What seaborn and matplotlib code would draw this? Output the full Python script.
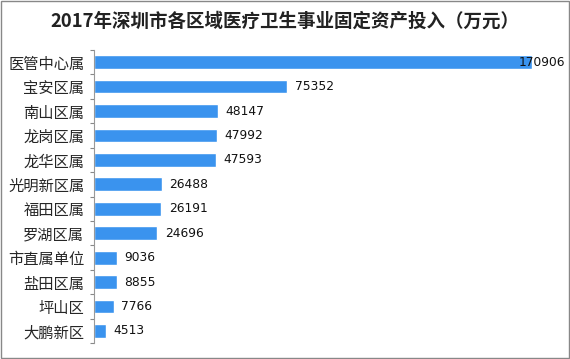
import pandas as pd
import seaborn as sns
import matplotlib.pyplot as plt
from matplotlib.patches import Rectangle

districts = ["医管中心属", "宝安区属", "南山区属", "龙岗区属", "龙华区属", "光明新区属",
             "福田区属", "罗湖区属", "市直属单位", "盐田区属", "坪山区", "大鹏新区"]
invest = [170906, 75352, 48147, 47992, 47593, 26488, 26191, 24696, 9036, 8855, 7766, 4513]

data = pd.DataFrame({"district": districts, "invest": invest})

sns.set_style("white")
plt.rcParams["font.family"] = ["Noto Sans CJK SC", "DejaVu Sans"]

fig = plt.figure(figsize=(5.7, 3.59), dpi=100)
ax = fig.add_axes([0.165, 0.044, 0.825, 0.817])

sns.barplot(x="invest", y="district", data=data, orient="h", color="#3A93EE",
            width=0.56, saturation=1, ax=ax)

xmax = 170906 * (564 - 94) / 438
ax.set_xlim(0, xmax)
ax.set_ylim(11.5, -0.5)

# value labels, the largest one is pushed back inside the frame
for i, v in enumerate(invest):
    if v + 0.17 * xmax > xmax:
        ax.text(xmax * 1.002, i, f"{v}", va="center", ha="right", fontsize=8.8,
                color="#111111", family="DejaVu Sans")
    else:
        ax.text(v + 0.016 * xmax, i, f"{v}", va="center", ha="left", fontsize=8.8,
                color="#111111", family="DejaVu Sans")

ax.set_xlabel("")
ax.set_ylabel("")
ax.set_xticks([])
ax.set_yticks(range(len(districts)))
ax.set_yticklabels(districts, fontsize=11)
ax.set_yticks([i + 0.5 for i in range(-1, len(districts))], minor=True)
ax.tick_params(axis="y", which="major", length=0, pad=7)
ax.tick_params(axis="y", which="minor", length=3, color="#888888", width=0.8, left=True)

for side in ["top", "right", "bottom"]:
    ax.spines[side].set_visible(False)
ax.spines["left"].set_color("#999999")
ax.spines["left"].set_linewidth(0.8)

fig.text(0.5, 0.94, "2017年深圳市各区域医疗卫生事业固定资产投入（万元）", ha="center",
         va="center", fontsize=13.3, fontweight="bold", color="#222222")

fig.patches.append(Rectangle((0.002, 0.003), 0.996, 0.994, transform=fig.transFigure,
                             fill=False, edgecolor="#888888", linewidth=1))

fig.savefig("out.png", dpi=100)
